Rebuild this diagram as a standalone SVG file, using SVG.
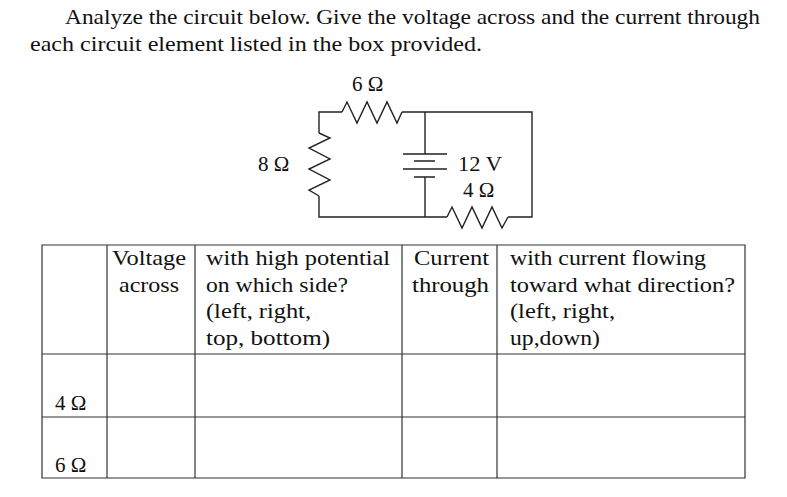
<svg xmlns="http://www.w3.org/2000/svg" width="787" height="497" viewBox="0 0 787 497">
<style>
text{font-family:"Liberation Serif",serif;font-size:21px;fill:#111}
.w{fill:none;stroke:#222;stroke-width:1.4}
.t{fill:none;stroke:#333;stroke-width:1.2}
</style>
<rect width="787" height="497" fill="#fff"/>
<text x="65" y="24" textLength="695" lengthAdjust="spacingAndGlyphs">Analyze the circuit below. Give the voltage across and the current through</text>
<text x="30" y="51" textLength="452" lengthAdjust="spacingAndGlyphs">each circuit element listed in the box provided.</text>
<g id="connectors">
<path class="w" d="M342,112 H319 V133 M319,196 V217 H447 M508,217 H532 V112 H402 M425,112 V154 M425,177 V217"/>
</g>
<g id="r6"><path class="w" d="M342,112 L347,102 L357,123 L367,102 L377,123 L387,102 L397,123 L402,112"/><text x="352" y="91">6 Ω</text></g>
<g id="r8"><path class="w" d="M319,133 L330,138 L309,148 L330,159 L309,169 L330,180 L309,190 L319,196"/><text x="258" y="171">8 Ω</text></g>
<g id="bat"><path class="w" d="M403,154 H447 M414,161 H435 M403,169 H447 M414,177 H435"/><text x="458" y="171" textLength="44" lengthAdjust="spacingAndGlyphs">12 V</text></g>
<g id="r4"><path class="w" d="M447,217 L452,207 L462,228 L472,207 L482,228 L492,207 L502,228 L508,217"/><text x="463" y="197">4 Ω</text></g>
<g id="table">
<path class="t" d="M42,245 H745 V478 H42 Z M42,354 H745 M42,417 H745 M107,245 V478 M195,245 V478 M402,245 V478 M497,245 V478"/>
<text x="112" y="265" textLength="74" lengthAdjust="spacingAndGlyphs">Voltage</text><text x="119" y="292" textLength="60" lengthAdjust="spacingAndGlyphs">across</text>
<text x="206" y="265" textLength="184" lengthAdjust="spacingAndGlyphs">with high potential</text><text x="206" y="292" textLength="142" lengthAdjust="spacingAndGlyphs">on which side?</text><text x="206" y="318" textLength="105" lengthAdjust="spacingAndGlyphs">(left, right,</text><text x="206" y="345" textLength="124" lengthAdjust="spacingAndGlyphs">top, bottom)</text>
<text x="414" y="265" textLength="75" lengthAdjust="spacingAndGlyphs">Current</text><text x="412" y="292" textLength="77" lengthAdjust="spacingAndGlyphs">through</text>
<text x="510" y="265" textLength="196" lengthAdjust="spacingAndGlyphs">with current flowing</text><text x="510" y="292" textLength="225" lengthAdjust="spacingAndGlyphs">toward what direction?</text><text x="510" y="318" textLength="105" lengthAdjust="spacingAndGlyphs">(left, right,</text><text x="510" y="345" textLength="90" lengthAdjust="spacingAndGlyphs">up,down)</text>
<text x="55" y="410">4 Ω</text><text x="55" y="472">6 Ω</text>
</g>
</svg>
